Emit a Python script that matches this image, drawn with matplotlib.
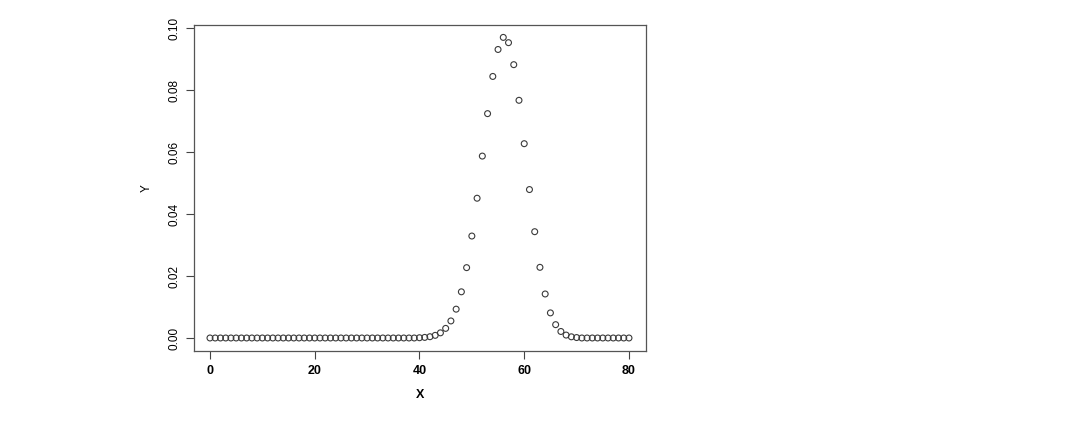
import numpy as np
import matplotlib.pyplot as plt

# values (x = 0..80)
x_vals = list(range(0, 81))
y_low = [0.0] * 40  # x = 0..39, all at zero
y_mid = [0.00008, 0.00019, 0.00041, 0.00085, 0.00166, 0.0031, 0.0055, 0.0093,
         0.0149, 0.0227, 0.0329, 0.0451, 0.0587, 0.0724, 0.0844, 0.0931,
         0.0970, 0.0953, 0.0882, 0.0767, 0.0627, 0.0479, 0.0343, 0.0228,
         0.0142, 0.0081, 0.0043, 0.0021, 0.00094, 0.00038, 0.00014]  # x = 40..70
y_high = [0.0] * 10  # x = 71..80
y_vals = y_low + y_mid + y_high

x_ticks = [0, 20, 40, 60, 80]
y_ticks = [0.00, 0.02, 0.04, 0.06, 0.08, 0.10]
y_tick_labels = ['0.00', '0.02', '0.04', '0.06', '0.08', '0.10']

plt.rcParams['font.family'] = ['Liberation Sans', 'DejaVu Sans']

fig = plt.figure(figsize=(10.8, 4.23), dpi=100)
ax = fig.add_axes([194 / 1080, 1 - 351 / 423, (646 - 194) / 1080, (351 - 25) / 423])

ax.scatter(x_vals, y_vals, s=18, facecolors='none', edgecolors='#3a3a3a', linewidths=0.8)

ax.set_xlim(-3.05, 83.25)
ax.set_ylim(-0.0042, 0.101)
ax.set_xticks(x_ticks)
ax.set_xticklabels([str(t) for t in x_ticks], fontweight='bold', fontsize=9)
ax.set_yticks(y_ticks)
ax.set_yticklabels(y_tick_labels, rotation=90, va='center', fontsize=8.5)
ax.tick_params(direction='out', length=6, width=0.8, color='#444444', pad=4)
for sp in ax.spines.values():
    sp.set_color('#555555')
    sp.set_linewidth(0.9)

ax.set_xlabel('X', fontweight='bold', fontsize=9, labelpad=9)
ax.set_ylabel('Y', fontsize=8.5, labelpad=11)

fig.savefig('out.png', dpi=100)
